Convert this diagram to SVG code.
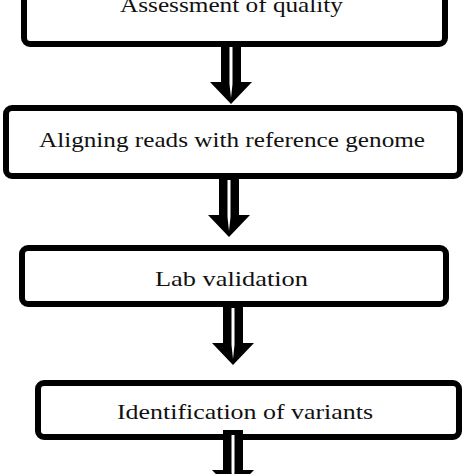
<svg xmlns="http://www.w3.org/2000/svg" xmlns:xlink="http://www.w3.org/1999/xlink" width="474" height="474" viewBox="0 0 474 474">
  <style>
    .box { fill: #ffffff; stroke: #000000; stroke-width: 6; }
    .lbl { font-family: "Liberation Serif", "Times New Roman", serif; font-size: 21px; fill: #111111; text-anchor: middle; }
    .ah { fill: #000000; }
    .slit { fill: #ffffff; }
  </style>
  <defs>
    <g id="arrow">
      <path class="ah" d="M-10,0 H10 V40 H21 L0,62 L-21,40 H-10 Z"/>
      <path class="slit" d="M-1.5,5 H1.5 V42 L0,56 L-1.5,42 Z"/>
    </g>
  </defs>
  <rect width="474" height="474" fill="#ffffff"/>
  <g id="node-quality">
    <rect class="box" x="24" y="-20" width="421" height="64" rx="6"/>
    <text class="lbl" x="231.5" y="12" textLength="223" lengthAdjust="spacingAndGlyphs">Assessment of quality</text>
  </g>
  <g id="node-align">
    <rect class="box" x="6" y="108" width="454" height="68" rx="6"/>
    <text class="lbl" x="232" y="147" textLength="386" lengthAdjust="spacingAndGlyphs">Aligning reads with reference genome</text>
  </g>
  <g id="node-lab">
    <rect class="box" x="22" y="248" width="424" height="56" rx="6"/>
    <text class="lbl" x="231.5" y="286" textLength="153" lengthAdjust="spacingAndGlyphs">Lab validation</text>
  </g>
  <g id="node-variants">
    <rect class="box" x="38" y="383" width="421" height="54" rx="6"/>
    <text class="lbl" x="245" y="419" textLength="256" lengthAdjust="spacingAndGlyphs">Identification of variants</text>
  </g>
  <g id="connectors">
    <use xlink:href="#arrow" x="231" y="42"/>
    <use xlink:href="#arrow" x="229" y="175"/>
    <use xlink:href="#arrow" x="233" y="303"/>
    <use xlink:href="#arrow" x="233" y="430"/>
  </g>
</svg>
